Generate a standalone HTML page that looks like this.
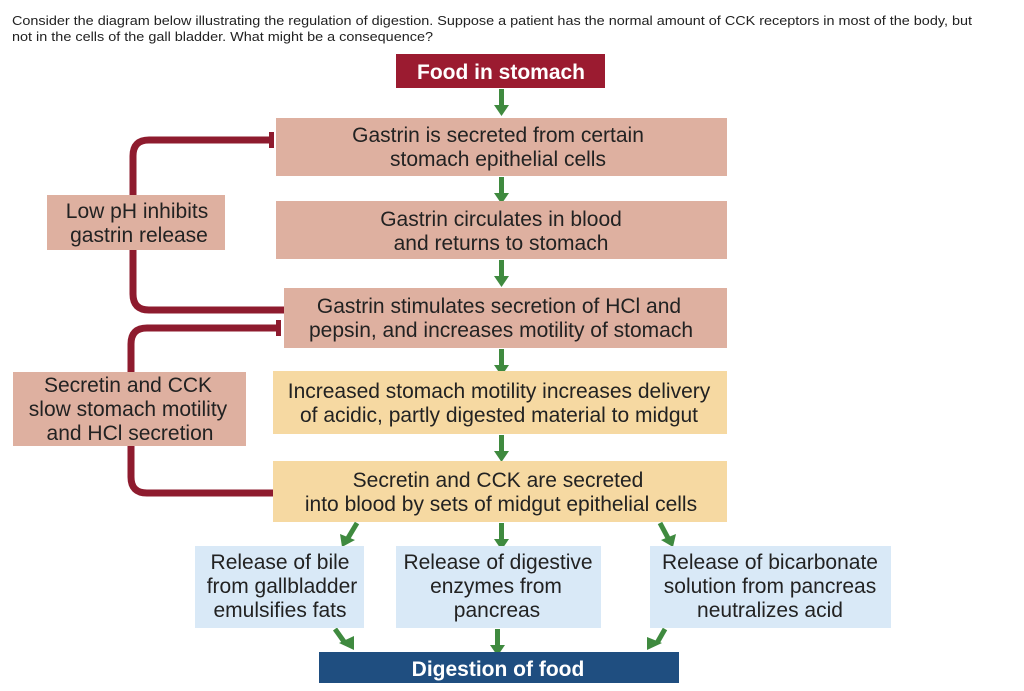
<!DOCTYPE html>
<html><head><meta charset="utf-8"><style>
html,body{margin:0;padding:0;background:#fff;}
svg{display:block;}
</style></head><body>
<svg width="1024" height="691" viewBox="0 0 1024 691" xmlns="http://www.w3.org/2000/svg" font-family="Liberation Sans, sans-serif">
<text x="12" y="25" font-size="13" fill="#222" textLength="960" lengthAdjust="spacingAndGlyphs">Consider the diagram below illustrating the regulation of digestion.  Suppose a patient has the normal amount of CCK receptors in most of the body, but</text>
<text x="12" y="41" font-size="13" fill="#222" textLength="421" lengthAdjust="spacingAndGlyphs">not in the cells of the gall bladder.  What might be a consequence?</text>

<g fill="none" stroke="#8e1b2e" stroke-width="7">
<path d="M133 196 V156 Q133 140 149 140 H270"/>
<path d="M133 250 V294 Q133 310 149 310 H285"/>
<path d="M131 372 V344 Q131 328 147 328 H277"/>
<path d="M131 446 V477 Q131 493 147 493 H274"/>
</g>
<rect x="269" y="132" width="5" height="16" fill="#8e1b2e"/>
<rect x="276" y="320" width="5" height="16" fill="#8e1b2e"/>

<g fill="#3f8a3f">
<g id="a"><rect x="499" y="89" width="5" height="20"/><polygon points="494,105 509,105 501.5,116"/></g>
<use href="#a" transform="translate(0,88)"/>
<use href="#a" transform="translate(0,171)"/>
<use href="#a" transform="translate(0,260)"/>
<use href="#a" transform="translate(0,346)"/>
<use href="#a" transform="translate(0,434)"/>
<use href="#a" transform="translate(-4,540)"/>
</g>
<g stroke="#3f8a3f" stroke-width="5" fill="none">
<line x1="357" y1="523" x2="348" y2="538"/>
<line x1="660" y1="523" x2="668" y2="538"/>
<line x1="335" y1="629" x2="345" y2="643"/>
<line x1="665" y1="629" x2="657" y2="643"/>
</g>
<g fill="#3f8a3f">
<polygon points="340,534 355,540 342,547"/>
<polygon points="661,540 676,534 673,547"/>
<polygon points="339,643 354,636 354,650"/>
<polygon points="647,637 662,643 647,650"/>
</g>

<rect x="396" y="54" width="209" height="34" fill="#9b1b30"/>
<text x="501" y="79" font-size="21" font-weight="bold" fill="#fff" text-anchor="middle">Food in stomach</text>

<g fill="#deb0a0">
<rect x="276" y="118" width="451" height="58"/>
<rect x="276" y="201" width="451" height="58"/>
<rect x="284" y="288" width="443" height="60"/>
<rect x="47" y="195" width="178" height="55"/>
<rect x="13" y="372" width="233" height="74"/>
</g>
<g fill="#f6d9a2">
<rect x="273" y="371" width="454" height="63"/>
<rect x="273" y="461" width="454" height="61"/>
</g>
<g fill="#d9e9f7">
<rect x="195" y="546" width="169" height="82"/>
<rect x="396" y="546" width="205" height="82"/>
<rect x="650" y="546" width="241" height="82"/>
</g>
<rect x="319" y="652" width="360" height="31" fill="#1f4e80"/>
<text x="498" y="676" font-size="21" font-weight="bold" fill="#fff" text-anchor="middle">Digestion of food</text>

<g font-size="21" fill="#222" text-anchor="middle">
<text x="498" y="142">Gastrin is secreted from certain</text>
<text x="498" y="166">stomach epithelial cells</text>
<text x="501" y="226">Gastrin circulates in blood</text>
<text x="501" y="250">and returns to stomach</text>
<text x="499" y="313">Gastrin stimulates secretion of HCl and</text>
<text x="501" y="337">pepsin, and increases motility of stomach</text>
<text x="499" y="398">Increased stomach motility increases delivery</text>
<text x="499" y="422">of acidic, partly digested material to midgut</text>
<text x="498" y="487">Secretin and CCK are secreted</text>
<text x="501" y="511">into blood by sets of midgut epithelial cells</text>
<text x="137" y="218">Low pH inhibits</text>
<text x="139" y="242">gastrin release</text>
<text x="128" y="392">Secretin and CCK</text>
<text x="128" y="416">slow stomach motility</text>
<text x="130" y="440">and HCl secretion</text>
<text x="280" y="569">Release of bile</text>
<text x="282" y="593">from gallbladder</text>
<text x="280" y="617">emulsifies fats</text>
<text x="498" y="569">Release of digestive</text>
<text x="496" y="593">enzymes from</text>
<text x="497" y="617">pancreas</text>
<text x="770" y="569">Release of bicarbonate</text>
<text x="770" y="593">solution from pancreas</text>
<text x="770" y="617">neutralizes acid</text>
</g>
</svg>
</body></html>
